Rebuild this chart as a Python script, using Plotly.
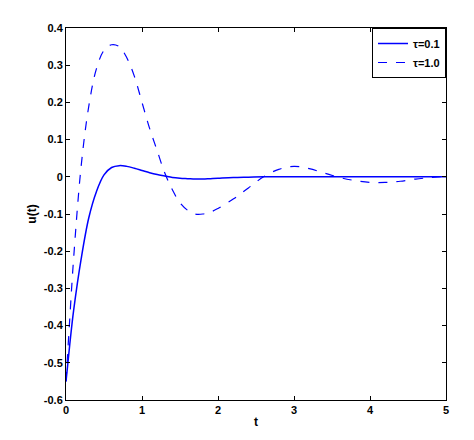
import plotly.graph_objects as go

# tiempos y valores
t = [0, 0.05, 0.1, 0.2, 0.3, 0.4, 0.5, 0.6, 0.7, 0.8, 0.9, 1.0, 1.1, 1.2, 1.3, 1.4, 1.5,
     1.6, 1.7, 1.8, 1.9, 2.0, 2.2, 2.4, 2.6, 2.8, 3.0, 3.2, 3.4, 3.6, 3.8, 4.0, 4.2,
     4.4, 4.6, 4.8, 5.0]
u_01 = [-0.55, -0.45, -0.36, -0.22, -0.11, -0.04, 0.005, 0.025, 0.03, 0.028, 0.023, 0.017,
        0.011, 0.006, 0.002, -0.002, -0.004, -0.005, -0.006, -0.006, -0.005, -0.004, -0.002,
        -0.001, 0.0, 0.0, 0.0, 0.0, 0.0, 0.0, 0.0, 0.0, 0.0, 0.0, 0.0, 0.0, 0.0]
u_10 = [-0.55, -0.38, -0.22, 0.03, 0.19, 0.29, 0.34, 0.355, 0.35, 0.32, 0.27, 0.2,
        0.13, 0.07, 0.01, -0.035, -0.07, -0.09, -0.1, -0.1, -0.095, -0.085, -0.06,
        -0.03, 0.0, 0.02, 0.028, 0.022, 0.01, -0.002, -0.01, -0.015, -0.015, -0.012,
        -0.006, -0.002, 0.002]
y_ticks = [-0.6, -0.5, -0.4, -0.3, -0.2, -0.1, 0, 0.1, 0.2, 0.3, 0.4]
y_labels = ['<b>-0.6</b>', '<b>-0.5</b>', '<b>-0.4</b>', '<b>-0.3</b>', '<b>-0.2</b>', '<b>-0.1</b>',
            '<b>0</b>', '<b>0.1</b>', '<b>0.2</b>', '<b>0.3</b>', '<b>0.4</b>']
x_ticks = [0, 1, 2, 3, 4, 5]
x_labels = ['<b>0</b>', '<b>1</b>', '<b>2</b>', '<b>3</b>', '<b>4</b>', '<b>5</b>']

AZUL = '#0000ff'

fig = go.Figure()
fig.add_trace(go.Scatter(x=t, y=u_01, mode='lines', name='<b>τ=0.1</b>',
                         line=dict(color=AZUL, width=1.5, shape='spline')))
fig.add_trace(go.Scatter(x=t, y=u_10, mode='lines', name='<b>τ=1.0</b>',
                         line=dict(color=AZUL, width=1.2, dash='dash', shape='spline')))

eje = dict(showgrid=False, zeroline=False, showline=True, mirror='ticks', linecolor='black',
           ticks='inside', ticklen=4, tickcolor='black', tickfont=dict(size=11, color='black',
           family='Liberation Sans'))
fig.update_xaxes(range=[0, 5], tickvals=x_ticks, ticktext=x_labels,
                 title=dict(text='<b>t</b>', standoff=2, font=dict(size=12, color='black')), **eje)
fig.update_yaxes(range=[-0.6, 0.4], tickvals=y_ticks, ticktext=y_labels,
                 title=dict(text='<b>u(t)</b>', standoff=4, font=dict(size=12, color='black')), **eje)

fig.update_layout(
    width=474, height=440,
    paper_bgcolor='white', plot_bgcolor='white',
    margin=dict(l=58, r=36, t=20, b=48),
    font=dict(family='Liberation Sans', color='black'),
    legend=dict(x=1, y=1, xanchor='right', yanchor='top', bgcolor='white',
                bordercolor='black', borderwidth=1, font=dict(size=11)),
)

fig.write_html("out.html")
